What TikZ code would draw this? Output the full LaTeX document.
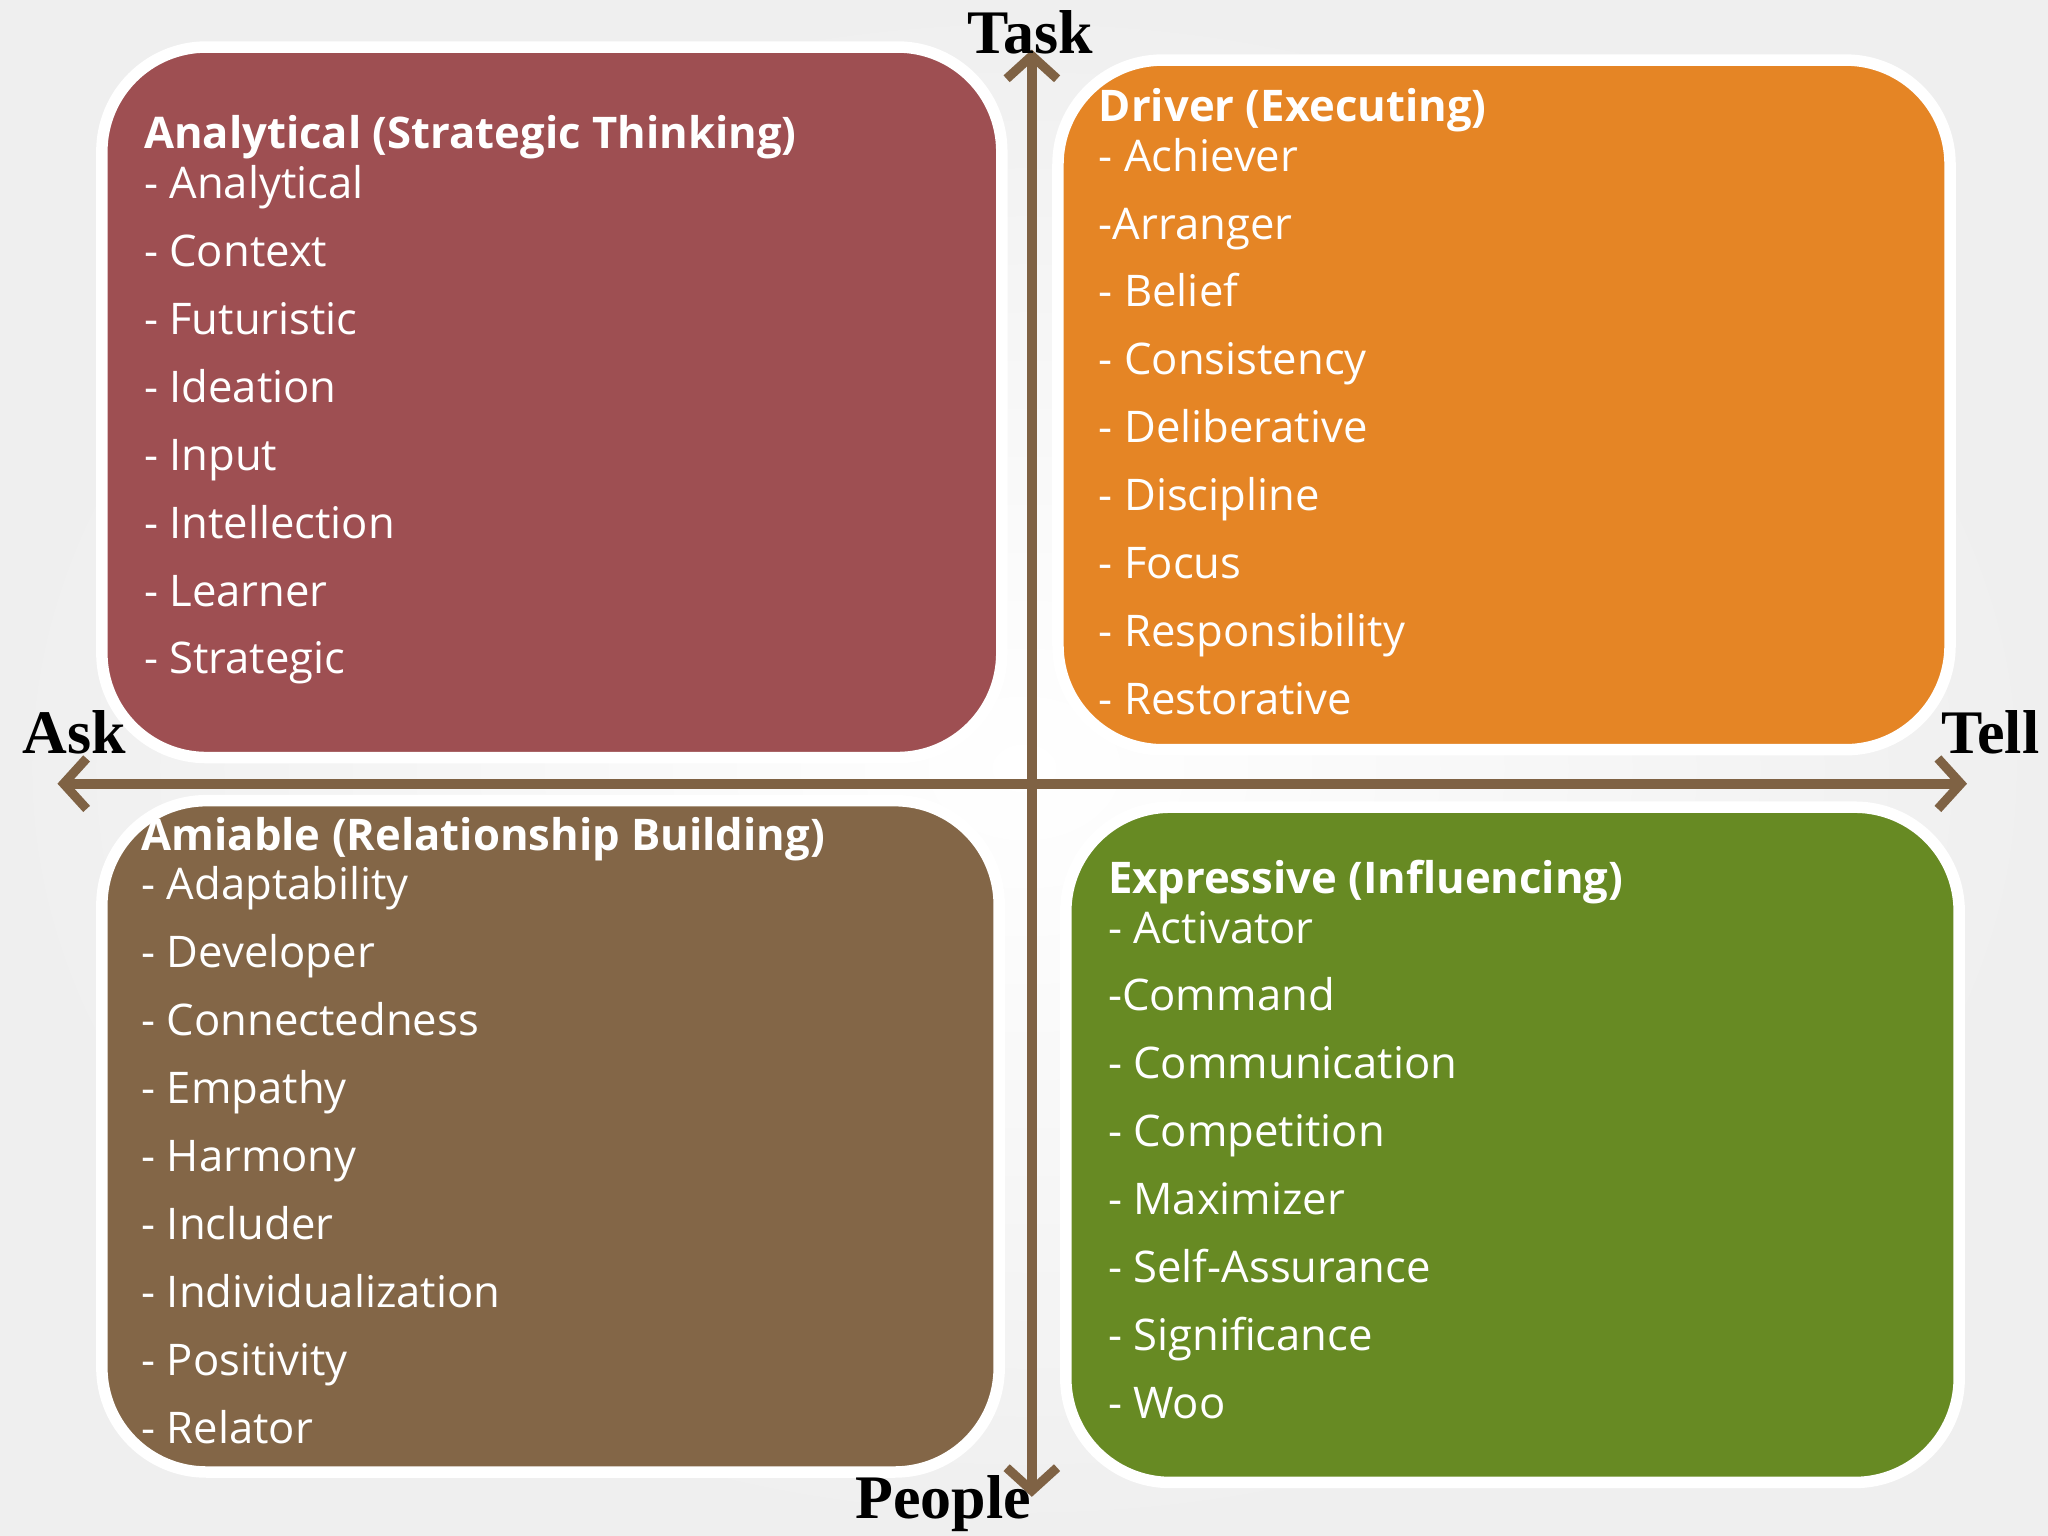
\documentclass[tikz,border=0pt]{standalone}
\usepackage{fontspec}
\setmainfont{Liberation Serif}
\newfontfamily\boxfont{Open Sans}
\usetikzlibrary{arrows.meta}
\definecolor{bgc}{HTML}{EFEFEF}
\definecolor{cana}{HTML}{9E4F52}
\definecolor{cdrv}{HTML}{E58525}
\definecolor{cami}{HTML}{836647}
\definecolor{cexp}{HTML}{678A23}
\definecolor{caxis}{HTML}{7F6244}
\tikzset{
 quad/.style={draw=white,line width=5pt,rounded corners=1.6cm},
 item/.style={anchor=base west,text=white,font=\boxfont\fontsize{19}{21}\selectfont,inner sep=0pt},
 head/.style={item,font=\boxfont\bfseries\fontsize{19}{21}\selectfont},
 axlab/.style={font=\bfseries\fontsize{27}{29}\selectfont,inner sep=0pt},
 axis/.style={caxis,line width=4.5pt,-{Straight Barb[length=10pt,width=22pt,line width=4pt]}}
}
\begin{document}
\begin{tikzpicture}[x=0.02cm,y=-0.02cm]
\useasboundingbox (0,0) rectangle (1568,1176);
\fill[inner color=white,outer color=bgc] (0,0) rectangle (1568,1176);
\filldraw[quad,fill=cana] (78,36) rectangle (767,580);
\filldraw[quad,fill=cdrv] (810,46) rectangle (1493,574);
\filldraw[quad,fill=cami] (78,613) rectangle (765,1127);
\filldraw[quad,fill=cexp] (816,618) rectangle (1500,1135);
\coordinate (vt) at (790,38); \coordinate (vb) at (790,1146);
\coordinate (hl) at (44,600); \coordinate (hr) at (1506,600);
\coordinate (c) at (790,600);
\draw[axis] (c) -- (vt); \draw[axis] (c) -- (vb);
\draw[axis] (c) -- (hl); \draw[axis] (c) -- (hr);
\node[axlab] (task) at (789,25) {Task};
\node[axlab] (people) at (722,1151) {People};
\node[axlab] (ask) at (57,561) {Ask};
\node[axlab] (tell) at (1524,561) {Tell};
\node[head] (ha) at (110,114) {Analytical (Strategic Thinking)};
\foreach \t [count=\i] in {Analytical,Context,Futuristic,Ideation,Input,Intellection,Learner,Strategic}
 \node[item] (a\i) at (110,100+52*\i) {- \t};
\node[head] (hd) at (841,93) {Driver (Executing)};
\foreach \t [count=\i] in {- Achiever,-Arranger,- Belief,- Consistency,- Deliberative,- Discipline,- Focus,- Responsibility,- Restorative}
 \node[item] (d\i) at (841,79+52*\i) {\t};
\node[head] (hm) at (108,651) {Amiable (Relationship Building)};
\foreach \t [count=\i] in {Adaptability,Developer,Connectedness,Empathy,Harmony,Includer,Individualization,Positivity,Relator}
 \node[item] (m\i) at (108,637+52*\i) {- \t};
\node[head] (he) at (848,684) {Expressive (Influencing)};
\foreach \t [count=\i] in {- Activator,-Command,- Communication,- Competition,- Maximizer,- Self-Assurance,- Significance,- Woo}
 \node[item] (e\i) at (848,670+52*\i) {\t};
\end{tikzpicture}
\end{document}
